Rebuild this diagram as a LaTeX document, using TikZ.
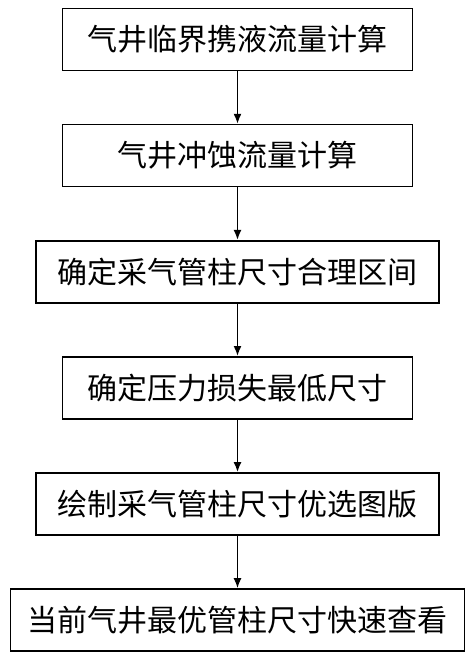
\documentclass[tikz,border=0pt]{standalone}
\usepackage{fontspec}
\newfontfamily\cjk{Noto Sans CJK SC}
\usetikzlibrary{arrows.meta,positioning}
\tikzset{
  fc_node/.style = {draw=black, line width=1.6pt, rectangle, align=center,
    inner sep=0pt, minimum height=62pt, font=\cjk\fontsize{30pt}{34pt}\selectfont},
  fc_s/.style = {fc_node, minimum width=350pt},% boite courte
  fc_m/.style = {fc_node, minimum width=403pt},% boite moyenne
  fc_l/.style = {fc_node, minimum width=454pt}% boite longue
}
\begin{document}
\begin{tikzpicture}[->,>={Latex[length=10pt,width=8pt]},line width=1.6pt,
  node distance=52.5pt]
\useasboundingbox (0,0) rectangle (474pt,-652pt);
\node [fc_s] (s1) at (237.5pt,-39.5pt) {气井临界携液流量计算};
\node [fc_s, below=of s1] (s2) {气井冲蚀流量计算};
\node [fc_m, below=of s2] (s3) {确定采气管柱尺寸合理区间};
\node [fc_s, below=of s3] (s4) {确定压力损失最低尺寸};
\node [fc_m, below=of s4] (s5) {绘制采气管柱尺寸优选图版};
\node [fc_l, below=of s5] (s6) {当前气井最优管柱尺寸快速查看};

\draw (s1) -- (s2);
\draw (s2) -- (s3);
\draw (s3) -- (s4);
\draw (s4) -- (s5);
\draw (s5) -- (s6);
\end{tikzpicture}
\end{document}
